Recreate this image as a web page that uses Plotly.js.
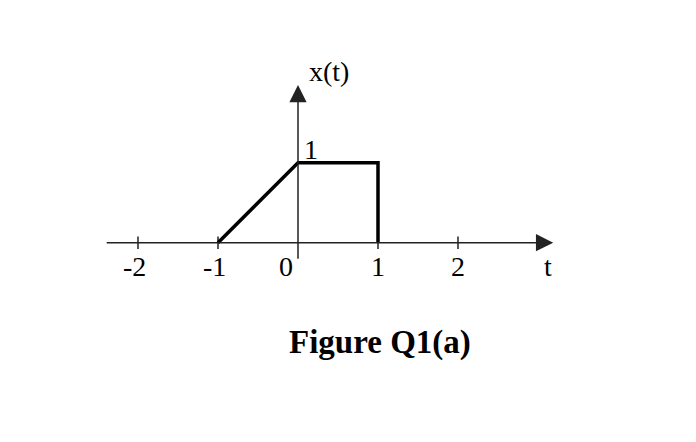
<!DOCTYPE html>
<html>
<head>
<meta charset="utf-8">
<script src="https://cdn.plot.ly/plotly-3.0.1.min.js"></script>
<style>html,body{margin:0;padding:0;background:#fff;}#chart{width:696px;height:442px;}</style>
</head>
<body>
<div id="chart"></div>
<script>
// Signal x(t)
const tValues = [-1, 0, 1, 1];
const xValues = [0, 1, 1, 0];
// Axis ticks and labels
const tickValues = [-2, -1, 0, 1, 2];
const tickLabels = ['-2', '-1', '0', '1', '2'];
const tickMarkValues = [-2, -1, 1, 2];
const levelValue = 1;
const levelLabel = '1';
const xAxisName = 't';
const yAxisName = 'x(t)';
const figureTitle = 'Figure Q1(a)';
// Axis extents (data units)
const xAxisStart = -2.41, xAxisEnd = 3.19;
const yAxisStart = -0.22, yAxisEnd = 1.97;

const serif = 'Liberation Serif, Times New Roman, serif';
const labelFont = {family: serif, size: 28, color: '#000'};

const traces = [
  {
    x: tickMarkValues, y: tickMarkValues.map(() => 0),
    mode: 'markers', type: 'scatter', hoverinfo: 'skip',
    marker: {symbol: 'line-ns-open', size: 9, color: '#222', line: {width: 1.5, color: '#222'}}
  },
  {
    x: tValues, y: xValues, mode: 'lines', type: 'scatter',
    line: {color: '#000', width: 3.5}, hoverinfo: 'skip'
  }
];

const annotations = [];
// x axis arrow
annotations.push({x: xAxisEnd, y: 0, ax: xAxisStart, ay: 0, xref: 'x', yref: 'y', axref: 'x', ayref: 'y',
  showarrow: true, arrowhead: 2, arrowsize: 2.3, arrowwidth: 1.5, arrowcolor: '#222', text: ''});
// y axis arrow
annotations.push({x: 0, y: yAxisEnd, ax: 0, ay: yAxisStart, xref: 'x', yref: 'y', axref: 'x', ayref: 'y',
  showarrow: true, arrowhead: 2, arrowsize: 2.3, arrowwidth: 1.5, arrowcolor: '#222', text: ''});
// tick labels
tickValues.forEach((v, i) => {
  const lab = tickLabels[i];
  let xs = 0;
  if (v === 0) xs = -12;
  else if (lab.startsWith('-')) xs = -4;
  annotations.push({x: v, y: 0, xref: 'x', yref: 'y', text: lab, showarrow: false,
    xanchor: 'center', yanchor: 'middle', yshift: -24, xshift: xs, font: labelFont});
});
// t label
annotations.push({x: xAxisEnd, y: 0, xref: 'x', yref: 'y', text: xAxisName, showarrow: false,
  xanchor: 'center', yanchor: 'middle', yshift: -24, xshift: -5, font: labelFont});
// x(t) label
annotations.push({x: 0, y: yAxisEnd, xref: 'x', yref: 'y', text: yAxisName, showarrow: false,
  xanchor: 'center', yanchor: 'middle', yshift: 14, xshift: 31, font: labelFont});
// level label
annotations.push({x: 0, y: levelValue, xref: 'x', yref: 'y', text: levelLabel, showarrow: false,
  xanchor: 'center', yanchor: 'middle', yshift: 13, xshift: 13, font: labelFont});
// Figure caption
annotations.push({x: 0.546, y: 0.224, xref: 'paper', yref: 'paper', text: '<b>' + figureTitle + '</b>', showarrow: false,
  xanchor: 'center', yanchor: 'middle', font: {family: serif, size: 33, color: '#000'}});

const layout = {
  width: 696, height: 442,
  margin: {l: 0, r: 0, t: 0, b: 0},
  paper_bgcolor: '#fff', plot_bgcolor: '#fff',
  showlegend: false,
  xaxis: {range: [-3.725, 4.975], visible: false, fixedrange: true},
  yaxis: {range: [-2.491, 3.034], visible: false, fixedrange: true},
  annotations: annotations
};

Plotly.newPlot('chart', traces, layout, {displayModeBar: false, staticPlot: true});
</script>
</body>
</html>
